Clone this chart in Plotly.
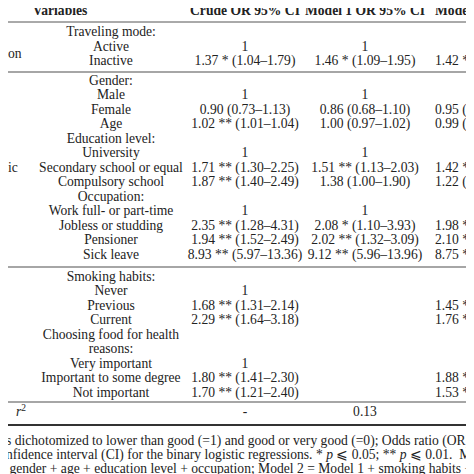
"""Cropped regression table (odds ratios) redrawn with Plotly text traces."""

import plotly.graph_objects as go

labels = [
    "Traveling mode:", "Active", "Inactive",
    "Gender:", "Male", "Female", "Age",
    "Education level:", "University", "Secondary school or equal", "Compulsory school",
    "Occupation:", "Work full- or part-time", "Jobless or studding", "Pensioner", "Sick leave",
    "Smoking habits:", "Never", "Previous", "Current",
    "Choosing food for health", "reasons:",
    "Very important", "Important to some degree", "Not important",
]
crude = [
    "", "1", "1.37 * (1.04–1.79)",
    "", "1", "0.90 (0.73–1.13)", "1.02 ** (1.01–1.04)",
    "", "1", "1.71 ** (1.30–2.25)", "1.87 ** (1.40–2.49)",
    "", "1", "2.35 ** (1.28–4.31)", "1.94 ** (1.52–2.49)", "8.93 ** (5.97–13.36)",
    "", "1", "1.68 ** (1.31–2.14)", "2.29 ** (1.64–3.18)",
    "", "",
    "1", "1.80 ** (1.41–2.30)", "1.70 ** (1.21–2.40)",
]
model1 = [
    "", "1", "1.46 * (1.09–1.95)",
    "", "1", "0.86 (0.68–1.10)", "1.00 (0.97–1.02)",
    "", "1", "1.51 ** (1.13–2.03)", "1.38 (1.00–1.90)",
    "", "1", "2.08 * (1.10–3.93)", "2.02 ** (1.32–3.09)", "9.12 ** (5.96–13.96)",
    "", "", "", "",
    "", "",
    "", "", "",
]
model2 = [
    "", "", "1.42 * (",
    "", "", "0.95 (", "0.99 (",
    "", "", "1.42 * (", "1.22 (",
    "", "", "1.98 * (", "2.10 ** (", "8.75 ** (",
    "", "", "1.45 ** (", "1.76 ** (",
    "", "",
    "", "1.88 ** (", "1.53 * (",
]
# row positions (pixel rows of the cropped page)
row_y = [25, 39.5, 54, 74, 88, 103, 117, 132, 146, 161, 175, 190, 204, 219, 233, 248,
         270, 284, 299, 313, 328, 342, 357, 371, 386]

headers = ["<b>Variables</b>", "<b>Crude OR 95% CI</b>", "<b>Model 1 OR 95% CI</b>", "<b>Model 2</b>"]
groups = ["on", "ic"]
group_y = [47, 161]
r2_row = ["<i>r</i><sup>2</sup>", "-", "0.13"]
footnotes = [
    "s dichotomized to lower than good (=1) and good or very good (=0); Odds ratio (OR), significan",
    "nfidence interval (CI) for the binary logistic regressions. * <i>p</i> ⩽ 0.05; ** <i>p</i> ⩽ 0.01.  Model 1 = Tr",
    " gender + age + education level + occupation; Model 2 = Model 1 + smoking habits + choosing f",
    "easons.",
]
foot_y = [434, 448, 462, 475]

FONT = dict(family="Liberation Serif, DejaVu Serif, serif", size=13.6, color="#222222")

fig = go.Figure()


def text_col(x, y, txt, pos="middle center"):
    fig.add_trace(go.Scatter(
        x=[x] * len(y), y=y, text=txt, mode="text",
        textposition=pos, textfont=FONT, hoverinfo="skip", showlegend=False,
    ))


text_col(103, row_y, labels)
text_col(237, row_y, crude)
text_col(357, row_y, model1)
text_col(427, row_y, model2, "middle right")
text_col(0, group_y, groups, "middle right")

fig.add_trace(go.Scatter(
    x=[52, 237, 357], y=[4, 4, 4], text=headers[:3], mode="text",
    textfont=FONT, hoverinfo="skip", showlegend=False,
))
text_col(427, [4], headers[3:], "middle right")
fig.add_trace(go.Scatter(
    x=[13, 237, 357], y=[405, 405, 405], text=r2_row, mode="text",
    textfont=FONT, hoverinfo="skip", showlegend=False,
))
text_col(-2, foot_y, footnotes, "middle right")

for yy, w, c in [(14, 1, "#555"), (64, 1.5, "#888"), (259, 1.5, "#888"),
                 (394, 1.5, "#888"), (417, 2, "#333")]:
    fig.add_shape(type="line", x0=0, x1=474, y0=yy, y1=yy,
                  line=dict(color=c, width=w))

fig.update_layout(
    width=474, height=474,
    margin=dict(l=0, r=0, t=0, b=0),
    paper_bgcolor="white", plot_bgcolor="white",
    xaxis=dict(range=[0, 474], visible=False, fixedrange=True),
    yaxis=dict(range=[474, 0], visible=False, fixedrange=True),
)

fig.write_html("out.html")
